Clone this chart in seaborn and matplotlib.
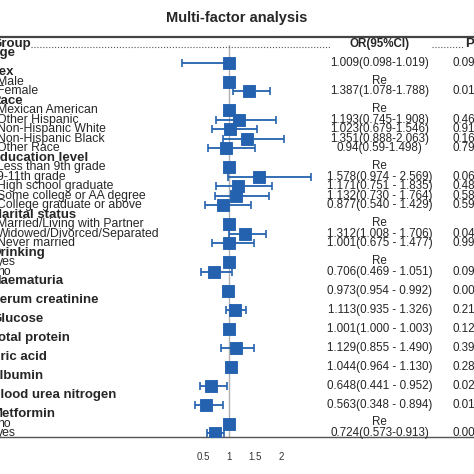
import matplotlib
matplotlib.use("Agg")
import matplotlib.pyplot as plt
import seaborn as sns
import numpy as np
import pandas as pd

sns.set_style("white")
plt.rcParams['font.family'] = ['Liberation Sans', 'DejaVu Sans']

labels = ["Group", "Age", "", "Sex", "Male", "Female", "Race", "Mexican American", "Other Hispanic",
          "Non-Hispanic White", "Non-Hispanic Black", "Other Race", "Education level", "Less than 9th grade",
          "9-11th grade", "High school graduate", "Some college or AA degree", "College graduate or above",
          "Marital status", "Married/Living with Partner", "Widowed/Divorced/Separated", "Never married",
          "Drinking", "yes", "no", "Haematuria", "", "Serum creatinine", "", "Glucose", "", "Total protein", "",
          "Uric acid", "", "Albumin", "", "Blood urea nitrogen", "", "Metformin", "no", "yes"]
bold = [1, 1, 0, 1, 0, 0, 1, 0, 0, 0, 0, 0, 1, 0, 0, 0, 0, 0, 1, 0, 0, 0, 1, 0, 0, 1, 0, 1, 0, 1, 0, 1, 0,
        1, 0, 1, 0, 1, 0, 1, 0, 0]
odds = [None, None, 1.009, None, 1, 1.387, None, 1, 1.193, 1.023, 1.351, 0.94, None, 1, 1.578, 1.171, 1.132,
        0.877, None, 1, 1.312, 1.001, None, 1, 0.706, None, 0.973, None, 1.113, None, 1.001, None, 1.129,
        None, 1.044, None, 0.648, None, 0.563, None, 1, 0.724]
lower = [None, None, 0.098, None, None, 1.078, None, None, 0.745, 0.679, 0.888, 0.59, None, None, 0.974, 0.751,
         0.730, 0.540, None, None, 1.008, 0.675, None, None, 0.469, None, 0.954, None, 0.935, None, 1.000,
         None, 0.855, None, 0.964, None, 0.441, None, 0.348, None, None, 0.573]
upper = [None, None, 1.019, None, None, 1.788, None, None, 1.908, 1.546, 2.063, 1.498, None, None, 2.569, 1.835,
         1.764, 1.429, None, None, 1.706, 1.477, None, None, 1.051, None, 0.992, None, 1.326, None, 1.003,
         None, 1.490, None, 1.130, None, 0.952, None, 0.894, None, None, 0.913]
or_text = ["OR(95%CI)", "", "1.009(0.098-1.019)", "", "Re", "1.387(1.078-1.788)", "", "Re", "1.193(0.745-1.908)",
           "1.023(0.679-1.546)", "1.351(0.888-2.063)", "0.94(0.59-1.498)", "", "Re", "1.578(0.974 - 2.569)",
           "1.171(0.751 - 1.835)", "1.132(0.730 - 1.764)", "0.877(0.540 - 1.429)", "", "Re",
           "1.312(1.008 - 1.706)", "1.001(0.675 - 1.477)", "", "Re", "0.706(0.469 - 1.051)", "",
           "0.973(0.954 - 0.992)", "", "1.113(0.935 - 1.326)", "", "1.001(1.000 - 1.003)", "",
           "1.129(0.855 - 1.490)", "", "1.044(0.964 - 1.130)", "", "0.648(0.441 - 0.952)", "",
           "0.563(0.348 - 0.894)", "", "Re", "0.724(0.573-0.913)"]
p_text = ["P", "", "0.096", "", "", "0.012", "", "", "0.464", "0.914", "0.162", "0.796", "", "", "0.065",
          "0.483", "0.584", "0.596", "", "", "0.043", "0.995", "", "", "0.094", "", "0.006", "", "0.214", "",
          "0.121", "", "0.392", "", "0.283", "", "0.021", "", "0.017", "", "", "0.006"]

n = len(labels)
df = pd.DataFrame({"row": np.arange(n), "or": odds, "lo": lower, "hi": upper})
pts = df.dropna(subset=["or"])
ci = df.dropna(subset=["lo"])

W = 474
fig = plt.figure(figsize=(W / 100, W / 100), dpi=100)
ax = fig.add_axes([0, 1 - 437 / W, 1, 400 / W])
x0 = 1 - 229 / 52
x1 = 1 + (W - 229) / 52
ax.set_xlim(x0, x1)
step = 389 / 41
ax.set_ylim(41 + 4 / step, -7 / step)

blue = "#2462b0"
ax.axvline(1, ymin=0, ymax=1 - (1 - 0.2) / (41 + 11 / step), color="#b0b0b0", lw=1, zorder=1)
ax.errorbar(ci["or"], ci["row"], xerr=[ci["or"] - ci["lo"], ci["hi"] - ci["or"]], fmt="none",
            ecolor=blue, elinewidth=1.3, capsize=3, capthick=1.2, zorder=2)
sns.scatterplot(data=pts, x="or", y="row", marker="s", s=65, color=blue, edgecolor=blue, ax=ax, zorder=3)

for i in range(n):
    lab = labels[i]
    if lab:
        if i == 0 or bold[i]:
            ax.text(x0 - 0.17, i, lab, fontsize=9.5, fontweight="bold", va="center", ha="left")
        else:
            ax.text(x0 - 0.06, i, lab, fontsize=8.8, va="center", ha="left")
    if or_text[i]:
        ax.text(3.9, i - (0.15 if or_text[i] == "Re" else 0), or_text[i], fontsize=8.4, ha="center",
                va="center", fontweight="bold" if i == 0 else "normal")
    if p_text[i]:
        ax.text(5.3 if i else 5.55, i, p_text[i], fontsize=8.4 if i else 9.5, ha="left", va="center",
                fontweight="bold" if i == 0 else "normal")

ax.plot([x0 + 0.6, 2.95], [0.35, 0.35], ls=":", color="#555555", lw=0.8)
ax.plot([4.9, 5.5], [0.35, 0.35], ls=":", color="#555555", lw=0.8)

for s in ["left", "right"]:
    ax.spines[s].set_visible(False)
ax.spines["top"].set_color("#444444")
ax.spines["top"].set_linewidth(1.6)
ax.spines["bottom"].set_color("#555555")
ax.spines["bottom"].set_linewidth(1.0)
ax.set_xticks([0.5, 1, 1.5, 2])
ax.set_xticklabels(["0.5", "1", "1.5", "2"], fontsize=7)
ax.tick_params(axis="x", direction="out", length=5, width=0.8, colors="#333333", pad=6)
ax.set_yticks([])
ax.set_xlabel("")
ax.set_ylabel("")
fig.text(0.5, 1 - 18 / W, "Multi-factor analysis", fontsize=10.5, fontweight="bold", ha="center", va="center")
fig.savefig("out.png", dpi=100)
